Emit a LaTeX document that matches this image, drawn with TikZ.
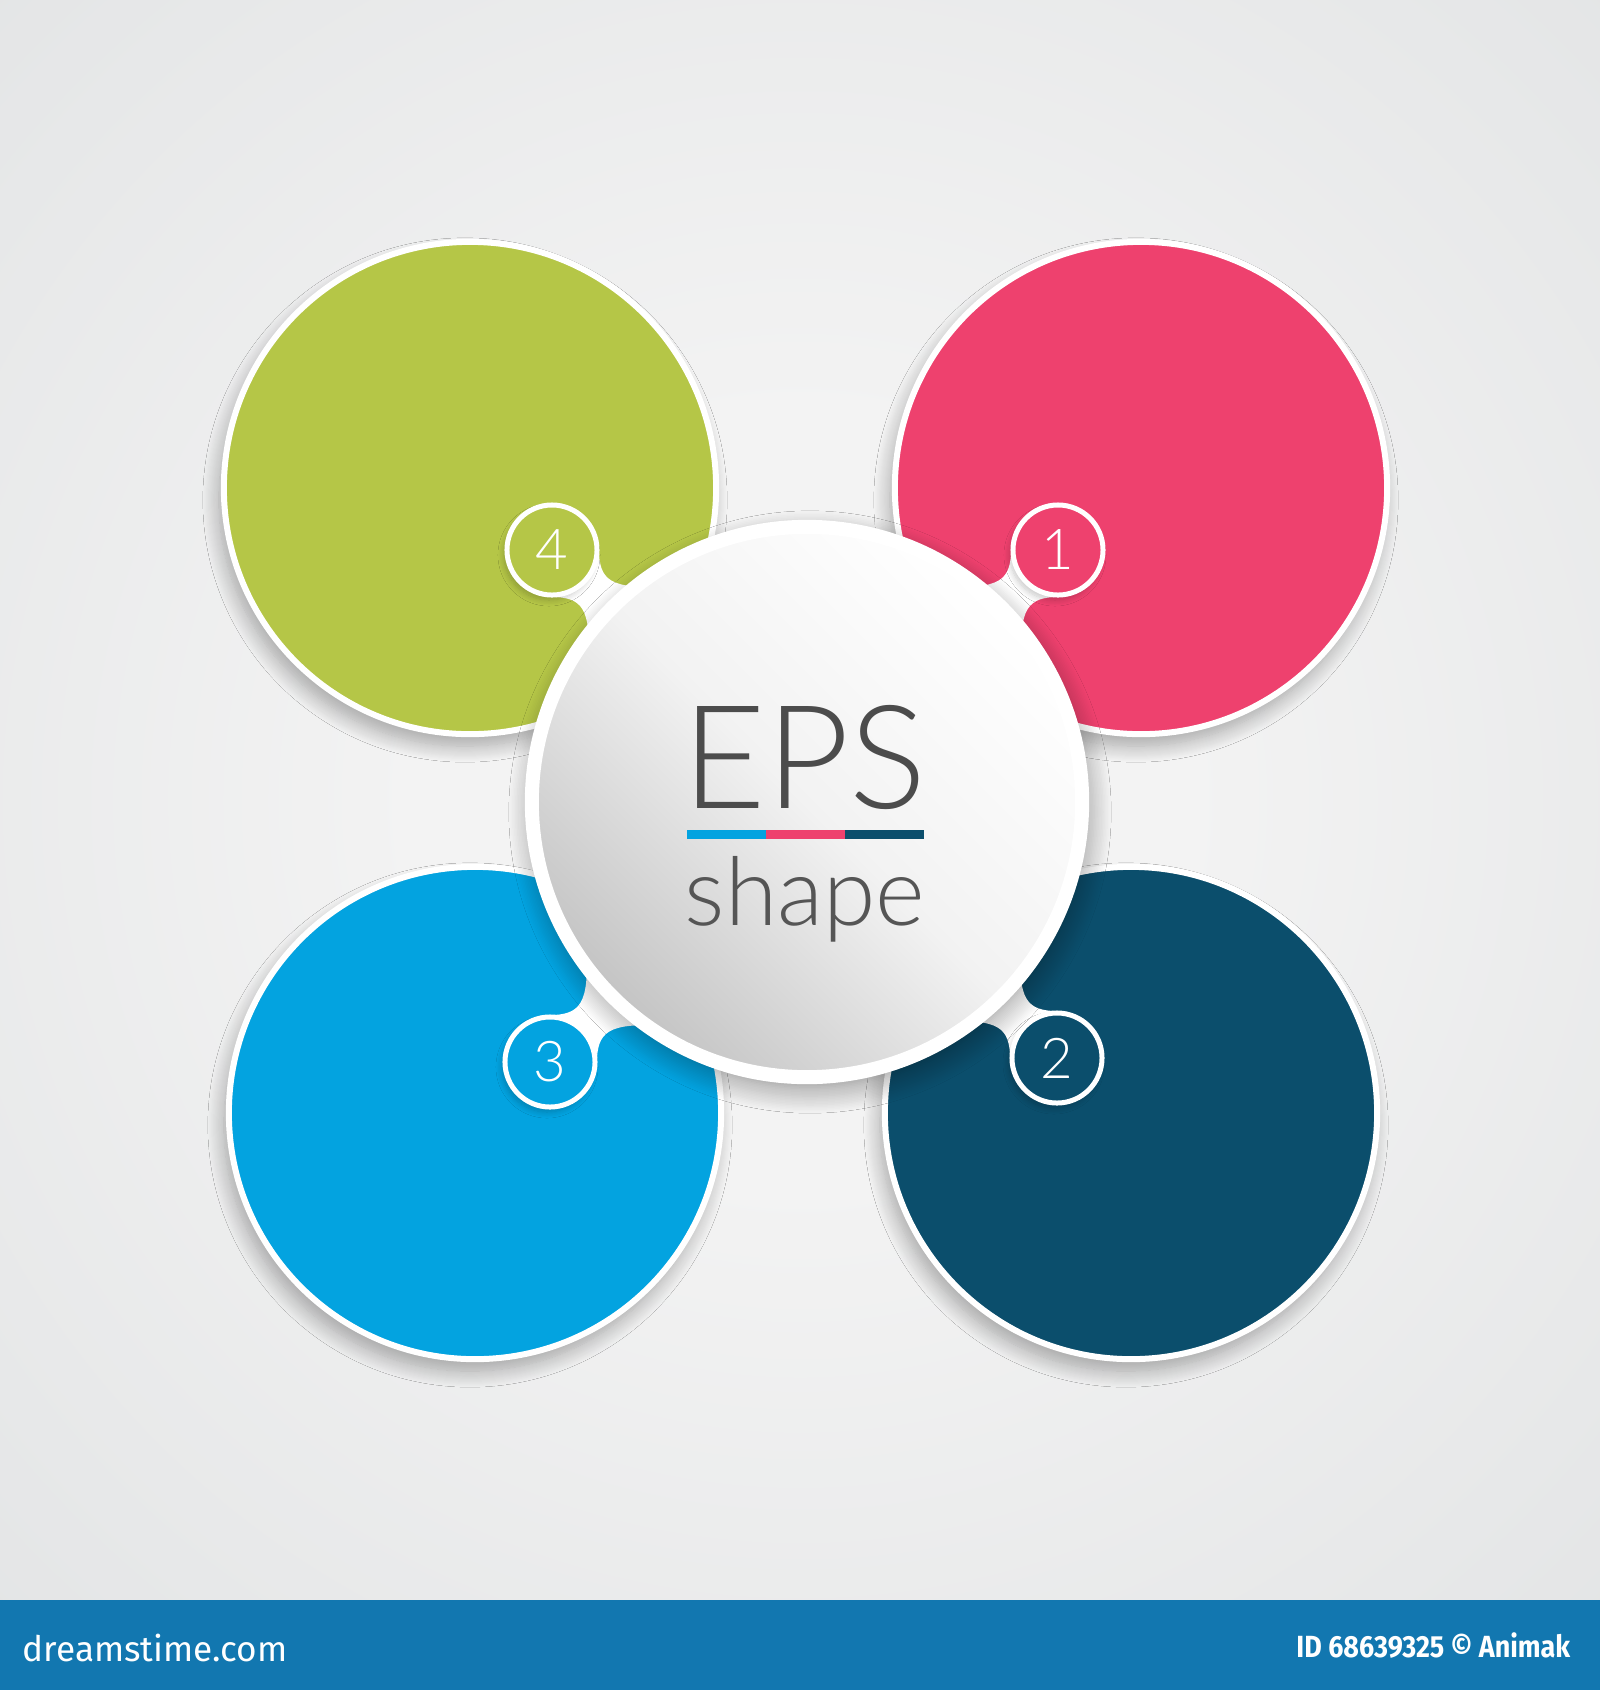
\documentclass[tikz,border=0pt]{standalone}
\usepackage{fontspec}
\setmainfont{Lato}
\newfontfamily\thinfont{Lato Light}
\newfontfamily\barfont{Fira Sans}
\usetikzlibrary{shadows.blur}
\definecolor{bgin}{HTML}{F3F3F3}
\definecolor{bgout}{HTML}{D3D6D8}
\definecolor{limec}{HTML}{B5C647}
\definecolor{rosec}{HTML}{EE416E}
\definecolor{skyc}{HTML}{03A3E0}
\definecolor{navyc}{HTML}{0B4E6C}
\definecolor{barc}{HTML}{1277B0}
\definecolor{inkc}{HTML}{555555}
\definecolor{hubgray}{HTML}{C4C4C4}
\pgfdeclareradialshading{bgglow}{\pgfpoint{0bp}{0bp}}{color(0bp)=(bgin); color(12bp)=(bgin); color(62bp)=(bgout); color(80bp)=(bgout)}

\begin{document}
\begin{tikzpicture}[x=0.01cm, y=-0.01cm, line join=round, line cap=round,
	petal/.style={circle, draw=white, line width=0.06cm, minimum size=4.92cm, inner sep=0,
		blur shadow={shadow xshift=-0.05cm, shadow yshift=-0.12cm, shadow blur radius=0.16cm,
			shadow blur steps=16, shadow opacity=32}},
	badge/.style={circle, draw=white, line width=0.05cm, minimum size=0.9cm, inner sep=0, text=white,
		font=\thinfont\fontsize{16}{16}\selectfont,
		blur shadow={shadow xshift=-0.03cm, shadow yshift=-0.05cm, shadow blur radius=0.06cm,
			shadow blur steps=10, shadow opacity=22}},
	hub/.style={circle, draw=white, line width=0.14cm, minimum size=5.5cm, inner sep=0,
		top color=white, bottom color=hubgray, middle color=black!5, shading angle=-45,
		blur shadow={shadow xshift=0.03cm, shadow yshift=-0.1cm, shadow blur radius=0.26cm,
			shadow blur steps=18, shadow opacity=45}}]
	\useasboundingbox (0,0) rectangle (1600,1690);
	\shade[shading=bgglow] (0,0) rectangle (1600,1600);
	\fill[barc] (0,1600) rectangle (1600,1690);
	% petals
	\node[petal, fill=rosec] (p1) at (1141,488) {};
	\node[petal, fill=navyc] (p2) at (1131,1113) {};
	\node[petal, fill=skyc] (p3) at (475,1113) {};
	\node[petal, fill=limec] (p4) at (470,488) {};
	% badge tails
	\coordinate (c1) at (1058,550);
	\coordinate (c2) at (1057,1058);
	\coordinate (c3) at (550,1062);
	\coordinate (c4) at (552,550);
	\foreach \b/\a in {c1/-135, c2/135, c3/45, c4/-45}{
		\begin{scope}[shift={(\b)}, rotate=\a]
			\fill[white] (28,-38) .. controls (52,-14) and (64,-10) .. (100,-48) -- (100,48)
				.. controls (64,10) and (52,14) .. (28,38) -- cycle;
		\end{scope}
	}
	\node[badge, fill=rosec] (b1) at (c1) {1};
	\node[badge, fill=navyc] (b2) at (c2) {2};
	\node[badge, fill=skyc] (b3) at (c3) {3};
	\node[badge, fill=limec] (b4) at (c4) {4};
	% centre
	\node[hub] (hub) at (807,802) {};
	\node[font=\thinfont\fontsize{41}{41}\selectfont, text=black!70, inner sep=0, anchor=base] (eps) at (805,808) {EPS};
	\node[font=\thinfont\fontsize{27}{27}\selectfont, text=inkc, inner sep=0, anchor=base] (shape) at (805,925) {shape};
	\foreach \c [count=\i from 0] in {skyc,rosec,navyc}
		\fill[\c] (687+79*\i,830) rectangle (766+79*\i,839);
	% footer
	\node[anchor=west, text=white, inner sep=0, font=\barfont\fontsize{10}{10}\selectfont] (site) at (22,1648) {dreamstime.com};
	\node[anchor=east, text=white, inner sep=0, font=\barfont\bfseries\fontsize{8.7}{8.7}\selectfont] (credit) at (1571,1646)
		{\scalebox{0.88}[1]{ID 68639325 © Animak}};
\end{tikzpicture}
\end{document}
